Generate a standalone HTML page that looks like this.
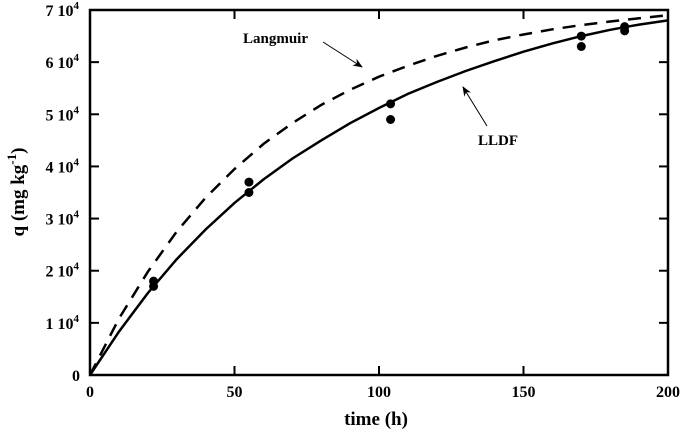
<!DOCTYPE html>
<html><head><meta charset="utf-8"><style>
html,body{margin:0;padding:0;background:#fff}
svg text{font-family:"Liberation Serif",serif;font-weight:bold;fill:#000}
</style></head><body>
<svg id="chart" width="685" height="435" viewBox="0 0 685 435" xmlns="http://www.w3.org/2000/svg"></svg>
<script>
const times = [0,10,20,30,40,50,60,70,80,90,100,110,120,130,140,150,160,170,180,190,200];
const lldfValues = [0,8300,15700,22200,27900,33000,37500,41500,45000,48300,51200,53900,56200,58300,60200,62000,63600,65000,66200,67200,68000];
const langmuirValues = [0,10800,19800,27500,34000,39500,44300,48300,51800,54700,57200,59300,61200,62800,64200,65300,66300,67100,67800,68400,69000];
const pointTimes = [22,22,55,55,104,104,170,170,185,185];
const pointValues = [18000,17000,37000,35000,52000,49000,65000,63000,66800,66000];
const xTicks = [0,50,100,150,200];
const yTicks = [0,10000,20000,30000,40000,50000,60000,70000];
const yTickMantissa = ["0","1","2","3","4","5","6","7"];

const L=90,R=668,T=10,B=375;
const X=v=>L+(v-0)/200*(R-L);
const Y=v=>B-(v/70000)*(B-T);
const svg=document.getElementById('chart');
const NS='http://www.w3.org/2000/svg';
function mk(tag,attrs,parent){const e=document.createElementNS(NS,tag);for(const k in attrs)e.setAttribute(k,attrs[k]);(parent||svg).appendChild(e);return e;}

const defs=mk('defs',{});
const mkr=mk('marker',{id:'ah',markerWidth:'10',markerHeight:'8',refX:'9',refY:'4',orient:'auto',markerUnits:'userSpaceOnUse'},defs);
mk('path',{d:'M0,0 L10,4 L0,8 L3,4 Z',fill:'#000'},mkr);

const frame=mk('rect',{x:L,y:T,width:R-L,height:B-T,fill:'none',stroke:'#000','stroke-width':2.5});



xTicks.forEach((t,i)=>{
  const x=X(t);
  const a=mk('line',{x1:x,y1:B,x2:x,y2:B-9,stroke:'#000','stroke-width':2});
  
  
  mk('line',{x1:x,y1:T,x2:x,y2:T+9,stroke:'#000','stroke-width':2});
  const tx=mk('text',{x:x,y:B+22,'text-anchor':'middle','font-size':'16'});
  tx.textContent=String(t);
  
  
});
yTicks.forEach((v,i)=>{
  const y=Y(v);
  const a=mk('line',{x1:L,y1:y,x2:L+9,y2:y,stroke:'#000','stroke-width':2});
  
  
  mk('line',{x1:R,y1:y,x2:R-9,y2:y,stroke:'#000','stroke-width':2});
  const tx=mk('text',{x:v===0?80:79,y:y+6,'text-anchor':'end','font-size':'16'});
  if(v===0){tx.textContent='0';}
  else{
    tx.textContent=yTickMantissa[i]+' 10';
    const s=mk('tspan',{dy:'-7','font-size':'11'},tx);s.textContent='4';
  }
  
  
});

function pathFrom(vals){return vals.map((v,i)=>(i?'L':'M')+X(times[i]).toFixed(1)+','+Y(v).toFixed(1)).join(' ');}
const lang=mk('path',{d:pathFrom(langmuirValues),fill:'none',stroke:'#000','stroke-width':2.5,'stroke-dasharray':'13,9'});


const lldf=mk('path',{d:pathFrom(lldfValues),fill:'none',stroke:'#000','stroke-width':2.5});



pointTimes.forEach((t,i)=>{
  const c=mk('circle',{cx:X(t),cy:Y(pointValues[i]),r:4.5,fill:'#000'});
  
  
});

const lt=mk('text',{x:243,y:43,'font-size':'15'});lt.textContent='Langmuir';


const la=mk('line',{x1:323,y1:42,x2:362,y2:67,stroke:'#000','stroke-width':1,'marker-end':'url(#ah)'});


const dt=mk('text',{x:478,y:145,'font-size':'15'});dt.textContent='LLDF';


const da=mk('line',{x1:487,y1:126,x2:463,y2:87,stroke:'#000','stroke-width':1,'marker-end':'url(#ah)'});



const xt=mk('text',{x:376,y:425,'text-anchor':'middle','font-size':'19'});xt.textContent='time (h)';


const yt=mk('text',{transform:'translate(24,192) rotate(-90)','text-anchor':'middle','font-size':'19'});
yt.textContent='q (mg kg';
const sup=mk('tspan',{dy:'-8','font-size':'13'},yt);sup.textContent='-1';
const cl=mk('tspan',{dy:'8'},yt);cl.textContent=')';


</script>
</body></html>
